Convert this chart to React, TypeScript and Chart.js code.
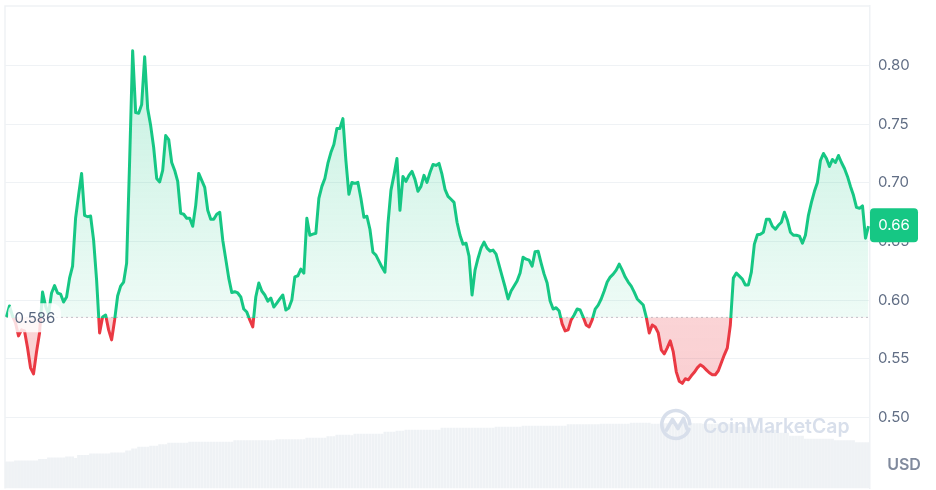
import React, { useEffect, useRef } from 'react';
import { Chart, registerables } from 'chart.js';

Chart.register(...registerables);

const prices = [
  0.5855, 0.5949, 0.5864, 0.5804, 0.5694, 0.5745, 0.5736, 0.5592, 0.5421, 0.537, 0.5557, 0.5719,
  0.6068, 0.5949, 0.5881, 0.606, 0.6123, 0.606, 0.6051, 0.5983, 0.6026, 0.6187, 0.6289, 0.6698,
  0.6894, 0.7081, 0.6723, 0.6711, 0.6717, 0.6511, 0.617, 0.5719, 0.5855, 0.5872, 0.5745, 0.566,
  0.583, 0.6034, 0.6119, 0.6153, 0.6315, 0.7191, 0.8128, 0.76, 0.7594, 0.7668, 0.8076, 0.7634,
  0.7489, 0.7302, 0.7038, 0.7008, 0.7106, 0.7404, 0.737, 0.7174, 0.7106, 0.7013, 0.674, 0.6732,
  0.6698, 0.6698, 0.663, 0.6808, 0.7081, 0.7021, 0.6962, 0.6766, 0.6689, 0.6689, 0.6732, 0.6749,
  0.6511, 0.6349, 0.6187, 0.6064, 0.6071, 0.606, 0.6026, 0.5923, 0.5898, 0.583, 0.577, 0.6026,
  0.6145, 0.6077, 0.6043, 0.5991, 0.6017, 0.594, 0.5974, 0.6009, 0.6043, 0.5915, 0.5932, 0.6,
  0.6198, 0.6207, 0.6264, 0.623, 0.6698, 0.6553, 0.6562, 0.657, 0.6868, 0.697, 0.7038, 0.7166,
  0.7259, 0.7328, 0.7464, 0.7464, 0.7549, 0.7191, 0.6902, 0.7004, 0.6996, 0.7004, 0.6868, 0.6706,
  0.6715, 0.6604, 0.6408, 0.6383, 0.6332, 0.6281, 0.6238, 0.6647, 0.6936, 0.7064, 0.7208, 0.6766,
  0.7055, 0.7013, 0.7064, 0.7098, 0.703, 0.6928, 0.697, 0.7064, 0.7004, 0.7089, 0.7157, 0.7149,
  0.7166, 0.7072, 0.6945, 0.6885, 0.686, 0.6834, 0.6664, 0.6553, 0.6477, 0.6485, 0.6374, 0.6043,
  0.6255, 0.6357, 0.6443, 0.6494, 0.6443, 0.6417, 0.6426, 0.6391, 0.6298, 0.6204, 0.6111, 0.6009,
  0.6077, 0.6119, 0.6162, 0.623, 0.6366, 0.6349, 0.634, 0.6289, 0.6413, 0.6417, 0.6315, 0.6221,
  0.6145, 0.5991, 0.5923, 0.5934, 0.5906, 0.5796, 0.5736, 0.5745, 0.583, 0.5872, 0.5923, 0.5915,
  0.5855, 0.5787, 0.577, 0.583, 0.5923, 0.5957, 0.6009, 0.6077, 0.6153, 0.6196, 0.6221, 0.6255,
  0.6306, 0.6255, 0.6196, 0.6153, 0.6119, 0.6068, 0.6009, 0.5983, 0.5957, 0.5855, 0.5719, 0.5787,
  0.577, 0.5719, 0.5575, 0.554, 0.5592, 0.5651, 0.5557, 0.5387, 0.5306, 0.5289, 0.5328, 0.5319,
  0.5353, 0.5383, 0.5421, 0.5447, 0.543, 0.5404, 0.5379, 0.5362, 0.5362, 0.5396, 0.5464, 0.5532,
  0.5592, 0.5787, 0.6187, 0.623, 0.6204, 0.6179, 0.6128, 0.6128, 0.6238, 0.6477, 0.6557, 0.6562,
  0.6579, 0.6689, 0.6689, 0.663, 0.6604, 0.6638, 0.6664, 0.6749, 0.6681, 0.6579, 0.6553, 0.6553,
  0.6545, 0.6485, 0.6553, 0.6723, 0.6834, 0.6928, 0.7004, 0.7191, 0.7251, 0.7208, 0.714, 0.72,
  0.7174, 0.7234, 0.7174, 0.7123, 0.7055, 0.697, 0.6894, 0.6791, 0.6783, 0.6804, 0.6528, 0.663,
];

const volumes = [
  27, 27, 27, 28, 28, 28, 28, 28, 28, 28, 28, 29.5,
  29.5, 29.5, 31, 31, 31, 31, 31, 31, 32, 32, 32, 30.5,
  33.5, 33.5, 33.5, 33.5, 35, 35, 35, 35, 35, 35, 35, 36,
  36, 36, 36, 36, 38, 38, 40, 40, 42, 42, 42, 42,
  43, 43, 43, 44.5, 44.5, 44.5, 46, 46, 46, 46, 46, 46,
  46, 47, 47, 47, 47, 47, 47, 47, 47, 47, 47, 47,
  47, 47, 47, 47, 48.5, 48.5, 48.5, 48.5, 48.5, 48.5, 48.5, 48.5,
  48.5, 48.5, 48.5, 48.5, 48.5, 48.5, 49.5, 49.5, 49.5, 49.5, 49.5, 49.5,
  49.5, 49.5, 49.5, 49.5, 51, 51, 51, 51, 51, 51, 51, 52.5,
  52.5, 52.5, 54, 54, 54, 54, 54, 53.5, 55, 55, 55, 55,
  55, 55, 55, 55, 55, 55, 57, 57, 57, 57, 58, 58,
  58, 59, 59, 59, 59, 59, 59, 59, 59, 59, 59, 59,
  59, 61, 61, 61, 61, 61, 61, 61, 61, 61, 61, 61,
  61, 61, 61, 61, 61, 61, 61, 62, 62, 62, 62, 62,
  62, 62, 62, 62, 63, 63, 63, 63, 63, 63, 63, 63,
  63, 63, 63, 63, 63, 63, 63, 64.5, 64.5, 64.5, 64.5, 64.5,
  64.5, 64.5, 64.5, 64.5, 64.5, 64.5, 65, 65, 65, 65, 65, 65,
  65, 65, 65, 65, 66, 66, 66, 66, 66, 66, 66, 65,
  65, 65, 65.5, 65.5, 65.5, 65.5, 65.5, 65.5, 65.5, 65.5, 65.5, 65.5,
  65.5, 65.5, 65.5, 65.5, 65, 65, 65, 65, 65, 65, 65, 65,
  65, 65, 65, 65, 62, 62, 62, 62, 62, 62, 62, 59,
  59, 59, 59, 59, 59, 56, 56, 56, 56, 53, 53, 53,
  53, 53, 50, 50, 50, 50, 50, 50, 50, 50, 50, 50,
  48.5, 48.5, 48.5, 48.5, 48.5, 48.5, 48.5, 46.5, 46.5, 46.5, 46.5, 46.5,
];

const labels = prices.map((_, i) => String(i));
const yTicks = [0.5, 0.55, 0.6, 0.65, 0.7, 0.75, 0.8];
const baseValue = 0.5852;
const baseLabel = '0.586';
const lastLabel = '0.66';
const unitLabel = 'USD';
const watermark = 'CoinMarketCap';

const GREEN = '#16c784';
const RED = '#ea3943';
const GRID = '#eff2f5';
const FONT = 'Inter';

function roundBox(ctx: CanvasRenderingContext2D, x: number, y: number, w: number, h: number, r: number, fill: string) {
  ctx.beginPath();
  ctx.roundRect(x, y, w, h, r);
  ctx.fillStyle = fill;
  ctx.fill();
}

const framePlugin = {
  id: 'frame',
  beforeDatasetsDraw(chart: any) {
    const { ctx, chartArea: a } = chart;
    ctx.save();
    ctx.strokeStyle = GRID;
    ctx.lineWidth = 1.5;
    ctx.beginPath();
    ctx.moveTo(a.left, a.bottom);
    ctx.lineTo(a.left, a.top);
    ctx.lineTo(a.right, a.top);
    ctx.stroke();
    ctx.restore();
  },
};

const overlayPlugin = {
  id: 'overlay',
  afterDraw(chart: any) {
    const { ctx, scales } = chart;
    const baseY = scales.y.getPixelForValue(baseValue);
    const lastY = scales.y.getPixelForValue(prices[prices.length - 1]);

    ctx.save();

    // watermark
    ctx.strokeStyle = '#d8dfeb';
    ctx.lineWidth = 3.6;
    ctx.lineCap = 'round';
    ctx.lineJoin = 'round';
    ctx.beginPath();
    ctx.arc(675.8, 424.5, 14, 0.35, Math.PI * 2 - 0.05);
    ctx.stroke();
    ctx.beginPath();
    ctx.moveTo(666.5, 430);
    ctx.lineTo(672.5, 419.5);
    ctx.lineTo(678, 428.5);
    ctx.lineTo(683.5, 418.5);
    ctx.lineTo(687, 429);
    ctx.stroke();
    ctx.fillStyle = '#d8dfeb';
    ctx.font = `600 19.4px ${FONT}`;
    ctx.textAlign = 'left';
    ctx.textBaseline = 'alphabetic';
    ctx.fillText(watermark, 703, 433);

    // reference value pill
    roundBox(ctx, 8, baseY - 14, 53, 29, 9, 'rgba(255,255,255,0.82)');
    ctx.fillStyle = '#58667e';
    ctx.font = `400 15px ${FONT}`;
    ctx.textBaseline = 'middle';
    ctx.fillText(baseLabel, 14.5, baseY + 1.5);

    // last price badge
    roundBox(ctx, scales.y.left, lastY - 18, 48, 34, 4, GREEN);
    ctx.fillStyle = '#ffffff';
    ctx.textAlign = 'center';
    ctx.fillText(lastLabel, scales.y.left + 24, lastY - 1);

    // currency
    ctx.fillStyle = '#808a9d';
    ctx.font = `600 16px ${FONT}`;
    ctx.fillText(unitLabel, 904, 465);

    ctx.restore();
  },
};

export default function App() {
  const canvasRef = useRef<HTMLCanvasElement | null>(null);

  useEffect(() => {
    if (!canvasRef.current) return;

    const chart = new Chart(canvasRef.current, {
      type: 'bar',
      data: {
        labels,
        datasets: [
          {
            type: 'line',
            label: 'Price',
            data: prices,
            borderColor: GREEN,
            borderWidth: 3,
            borderJoinStyle: 'round',
            pointRadius: 0,
            tension: 0,
            order: 1,
            yAxisID: 'y',
          },
          {
            type: 'line',
            label: 'Reference',
            data: prices.map(() => baseValue),
            borderColor: '#808a9d',
            borderWidth: 1,
            borderDash: [1, 4],
            pointRadius: 0,
            fill: false,
            order: 2,
            yAxisID: 'y',
          },
          {
            type: 'bar',
            label: 'Volume',
            data: volumes,
            backgroundColor: GRID,
            barPercentage: 0.95,
            categoryPercentage: 1,
            order: 3,
            yAxisID: 'vol',
          },
        ],
      } as any,
      options: {
        responsive: false,
        animation: false,
        layout: { padding: { left: 5, top: 6, right: 0, bottom: 0 } },
        plugins: {
          legend: { display: false },
          tooltip: { enabled: false },
        },
        scales: {
          x: { display: false, offset: true, grid: { display: false } },
          y: {
            position: 'right',
            min: 0.4391,
            max: 0.851,
            afterBuildTicks: (axis: any) => {
              axis.ticks = yTicks.map((value) => ({ value }));
            },
            afterFit: (axis: any) => {
              axis.width = 66;
              axis.paddingTop = 0;
              axis.paddingBottom = 0;
            },
            border: { display: true, color: GRID, width: 1.5 },
            grid: { color: GRID, lineWidth: 1, drawTicks: false },
            ticks: {
              color: '#616e85',
              font: { family: FONT, size: 15 },
              padding: 8,
              callback: (v: any) => Number(v).toFixed(2),
            },
          },
          vol: { display: false, min: 0, max: 484 },
        },
      } as any,
      plugins: [framePlugin, overlayPlugin],
    });

    // gradients need the scale, so they go on after the first layout
    const { ctx, scales, chartArea } = chart as any;
    const baseY = scales.y.getPixelForValue(baseValue);

    const stroke = ctx.createLinearGradient(0, chartArea.top, 0, chartArea.bottom);
    const stop = (baseY - chartArea.top) / (chartArea.bottom - chartArea.top);
    stroke.addColorStop(0, GREEN);
    stroke.addColorStop(stop, GREEN);
    stroke.addColorStop(stop, RED);
    stroke.addColorStop(1, RED);

    const above = ctx.createLinearGradient(0, chartArea.top, 0, baseY);
    above.addColorStop(0, 'rgba(22,199,132,0.28)');
    above.addColorStop(1, 'rgba(22,199,132,0.07)');

    const below = ctx.createLinearGradient(0, baseY, 0, chartArea.bottom);
    below.addColorStop(0, 'rgba(234,57,67,0.22)');
    below.addColorStop(1, 'rgba(234,57,67,0.27)');

    const line = chart.data.datasets[0] as any;
    line.borderColor = stroke;
    line.fill = { target: { value: baseValue }, above, below };
    chart.update();

    return () => chart.destroy();
  }, []);

  return (
    <div style={{ position: 'absolute', left: 0, top: 0, width: 936, height: 490, background: '#fff' }}>
      <canvas ref={canvasRef} width={936} height={490} style={{ display: 'block' }} />
    </div>
  );
}
